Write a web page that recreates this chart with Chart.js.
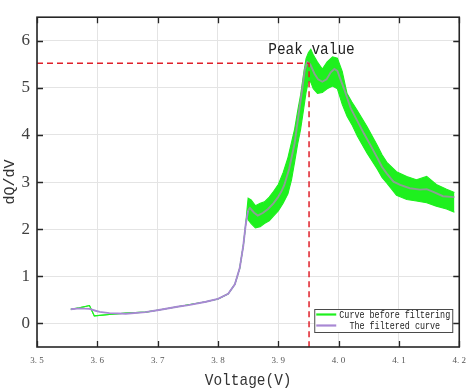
<!DOCTYPE html>
<html>
<head>
<meta charset="utf-8">
<script src="https://cdn.jsdelivr.net/npm/chart.js@4/dist/chart.umd.min.js"></script>
<style>
  html, body { margin: 0; padding: 0; background: #ffffff; }
  canvas { display: block; }
</style>
</head>
<body>
<canvas id="c" width="474" height="389"></canvas>
<script>
// ---------------- data ----------------
const xTickValues = [3.5, 3.6, 3.7, 3.8, 3.9, 4.0, 4.1, 4.2];
const xTickLabels = ['3. 5', '3. 6', '3. 7', '3. 8', '3. 9', '4. 0', '4. 1', '4. 2'];
const yTickValues = [0, 1, 2, 3, 4, 5, 6];
const yTickLabels = ['0', '1', '2', '3', '4', '5', '6'];

// raw (before filtering) curve: upper / lower envelope of the noisy trace
const rawX = [3.556, 3.570, 3.587, 3.595, 3.620, 3.647, 3.680, 3.702, 3.735, 3.780, 3.800, 3.817, 3.828, 3.836, 3.842, 3.846,
  3.848, 3.850, 3.855, 3.862, 3.870, 3.877, 3.885, 3.892, 3.900, 3.908, 3.916, 3.922, 3.927, 3.932, 3.937, 3.942, 3.946,
  3.950, 3.954, 3.958, 3.965, 3.973, 3.981, 3.990, 3.998, 4.006, 4.014, 4.022, 4.031, 4.047, 4.064, 4.072, 4.080, 4.096,
  4.113, 4.129, 4.146, 4.162, 4.179, 4.192];
const rawUpper = [0.30, 0.33, 0.38, 0.16, 0.19, 0.22, 0.24, 0.285, 0.36, 0.46, 0.52, 0.63, 0.83, 1.17, 1.65, 2.10,
  2.40, 2.66, 2.62, 2.50, 2.55, 2.58, 2.68, 2.80, 2.95, 3.20, 3.52, 3.85, 4.12, 4.50, 4.85, 5.30, 5.62,
  5.75, 5.82, 5.70, 5.55, 5.40, 5.55, 5.66, 5.63, 5.35, 4.88, 4.70, 4.52, 4.18, 3.78, 3.58, 3.42, 3.22,
  3.12, 3.05, 3.12, 2.95, 2.85, 2.78];
const rawLower = [0.30, 0.33, 0.38, 0.16, 0.19, 0.22, 0.24, 0.285, 0.36, 0.46, 0.52, 0.63, 0.83, 1.17, 1.65, 2.10,
  2.30, 2.20, 2.12, 2.03, 2.05, 2.12, 2.18, 2.28, 2.39, 2.55, 2.75, 3.05, 3.42, 3.80, 4.12, 4.55, 4.90,
  5.15, 5.12, 4.98, 4.88, 4.90, 4.98, 5.04, 4.98, 4.65, 4.40, 4.22, 3.98, 3.62, 3.28, 3.10, 2.98, 2.72,
  2.63, 2.60, 2.56, 2.49, 2.43, 2.36];

// filtered curve
const filtX = [3.556, 3.570, 3.587, 3.597, 3.604, 3.620, 3.647, 3.680, 3.702, 3.735, 3.751, 3.780, 3.800, 3.817, 3.828,
  3.836, 3.842, 3.846, 3.850, 3.853, 3.860, 3.866, 3.875, 3.883, 3.892, 3.899, 3.905, 3.910, 3.918, 3.927, 3.933,
  3.939, 3.944, 3.948, 3.953, 3.960, 3.966, 3.973, 3.980, 3.987, 3.993, 3.998, 4.004, 4.009, 4.020, 4.031, 4.042,
  4.053, 4.064, 4.072, 4.080, 4.091, 4.102, 4.118, 4.135, 4.146, 4.157, 4.173, 4.192];
const filtY = [0.30, 0.32, 0.31, 0.27, 0.245, 0.22, 0.205, 0.24, 0.285, 0.36, 0.39, 0.46, 0.52, 0.63, 0.83,
  1.17, 1.65, 2.10, 2.40, 2.45, 2.35, 2.29, 2.35, 2.43, 2.55, 2.67, 2.80, 2.94, 3.28, 3.82, 4.37,
  4.91, 5.39, 5.55, 5.50, 5.30, 5.18, 5.13, 5.18, 5.33, 5.40, 5.36, 5.15, 4.98, 4.57, 4.30, 4.03,
  3.78, 3.52, 3.32, 3.18, 3.01, 2.94, 2.87, 2.84, 2.85, 2.79, 2.70, 2.68];

// peak marker
const peakX = [3.5, 3.951, 3.951];
const peakY = [5.52, 5.52, -0.5];
const peakLabel = 'Peak value';
const peakLabelPos = [3.955, 5.71];

const seriesLabels = ['Curve before filtering', 'The filtered curve'];
const xTitle = 'Voltage(V)';
const yTitle = 'dQ/dV';

// ---------------- styling ----------------
const GREEN = '#1ef01e';
const PURPLE = '#a888d4';
const PURPLE_ON_GREEN = '#8c9f94';
const NOISY_FROM = 3.848;
const RED = '#e0202a';
const FRAME = '#262626';

const toPts = (xs, ys) => xs.map((x, i) => ({ x: x, y: ys[i] }));

function drawScaledText(ctx, text, x, y, font, sx, align, baseline, color, rot) {
  ctx.save();
  ctx.translate(x, y);
  if (rot) ctx.rotate(rot);
  ctx.scale(sx, 1);
  ctx.font = font;
  ctx.fillStyle = color;
  ctx.textAlign = align;
  ctx.textBaseline = baseline;
  ctx.fillText(text, 0, 0);
  ctx.restore();
}

const decorPlugin = {
  id: 'decor',
  afterDraw(chart) {
    const { ctx, chartArea: a, scales } = chart;
    const xs = scales.x, ys = scales.y;
    ctx.save();
    // frame
    ctx.strokeStyle = FRAME;
    ctx.lineWidth = 1.6;
    ctx.strokeRect(a.left, a.top, a.right - a.left, a.bottom - a.top);
    // inward ticks
    ctx.lineWidth = 1.3;
    const tl = 6;
    ctx.beginPath();
    xTickValues.forEach(v => {
      const px = Math.round(xs.getPixelForValue(v)) + 0.5;
      ctx.moveTo(px, a.bottom); ctx.lineTo(px, a.bottom - tl);
      ctx.moveTo(px, a.top); ctx.lineTo(px, a.top + tl);
    });
    yTickValues.forEach(v => {
      const py = Math.round(ys.getPixelForValue(v)) + 0.5;
      ctx.moveTo(a.left, py); ctx.lineTo(a.left + tl, py);
      ctx.moveTo(a.right, py); ctx.lineTo(a.right - tl, py);
    });
    ctx.stroke();

    // peak label
    drawScaledText(ctx, peakLabel, xs.getPixelForValue(peakLabelPos[0]), ys.getPixelForValue(peakLabelPos[1]),
      '16px "Liberation Mono"', 0.9, 'center', 'alphabetic', '#222', 0);

    // axis titles
    drawScaledText(ctx, xTitle, (a.left + a.right) / 2, 385, '17px "Liberation Mono"', 0.85, 'center', 'alphabetic', '#333', 0);
    drawScaledText(ctx, yTitle, 10, (a.top + a.bottom) / 2, '15px "Liberation Mono"', 1.0, 'center', 'middle', '#333', -Math.PI / 2);

    // legend inside the plot (bottom right)
    const bw = 138, bh = 23;
    const bx = a.right - 7 - bw, by = a.bottom - 15 - bh;
    ctx.fillStyle = '#ffffff';
    ctx.fillRect(bx, by, bw, bh);
    ctx.strokeStyle = '#4a4a4a';
    ctx.lineWidth = 1;
    ctx.strokeRect(bx + 0.5, by + 0.5, bw, bh);
    const colors = [GREEN, PURPLE];
    const textLeft = bx + 25, textRight = bx + bw - 2;
    seriesLabels.forEach((lab, i) => {
      const ly = by + 5.5 + i * 11;
      ctx.strokeStyle = colors[i];
      ctx.lineWidth = 2.2;
      ctx.beginPath();
      ctx.moveTo(bx + 2, ly); ctx.lineTo(bx + 22, ly);
      ctx.stroke();
      drawScaledText(ctx, lab, (textLeft + textRight) / 2, ly + 0.5, '10px "Liberation Mono"', 0.84, 'center', 'middle', '#222', 0);
    });
    ctx.restore();
  }
};

new Chart(document.getElementById('c'), {
  type: 'line',
  data: {
    datasets: [
      {
        label: seriesLabels[0],
        data: toPts(rawX, rawUpper),
        borderColor: GREEN, borderWidth: 1.1, pointRadius: 0, tension: 0,
        fill: false, order: 3
      },
      {
        label: seriesLabels[0] + ' (lower)',
        data: toPts(rawX, rawLower),
        borderColor: GREEN, borderWidth: 1.1, pointRadius: 0, tension: 0,
        backgroundColor: GREEN, fill: { target: 0 }, order: 3
      },
      {
        label: seriesLabels[1],
        data: toPts(filtX, filtY),
        borderColor: PURPLE, borderWidth: 1.9, pointRadius: 0, tension: 0,
        segment: { borderColor: c => (c.p0.parsed.x >= NOISY_FROM ? PURPLE_ON_GREEN : PURPLE) },
        fill: false, order: 1
      },
      {
        label: peakLabel,
        data: toPts(peakX, peakY),
        borderColor: RED, borderWidth: 1.5, borderDash: [6, 4], pointRadius: 0, tension: 0,
        fill: false, order: 0
      }
    ]
  },
  options: {
    responsive: false,
    animation: false,
    events: [],
    layout: { padding: { top: 6, right: 11, left: 0, bottom: 0 } },
    plugins: { legend: { display: false }, tooltip: { enabled: false }, title: { display: false } },
    scales: {
      x: {
        type: 'linear', min: 3.5, max: 4.2,
        afterBuildTicks: s => { s.ticks = xTickValues.map(v => ({ value: v })); },
        afterFit: s => { s.height = 42; },
        grid: { color: '#e4e4e4', lineWidth: 1, drawTicks: false },
        border: { display: false },
        ticks: {
          autoSkip: false, maxRotation: 0, padding: 8,
          font: { family: 'Liberation Serif', size: 9 }, color: '#555',
          callback: (v, i) => xTickLabels[i]
        }
      },
      y: {
        type: 'linear', min: -0.5, max: 6.5,
        afterBuildTicks: s => { s.ticks = yTickValues.map(v => ({ value: v })); },
        afterFit: s => { s.width = 37; },
        grid: { color: '#e4e4e4', lineWidth: 1, drawTicks: false },
        border: { display: false },
        ticks: {
          padding: 7,
          font: { family: 'Liberation Serif', size: 17 }, color: '#404040',
          callback: (v, i) => yTickLabels[i]
        }
      }
    }
  },
  plugins: [decorPlugin]
});
</script>
</body>
</html>
